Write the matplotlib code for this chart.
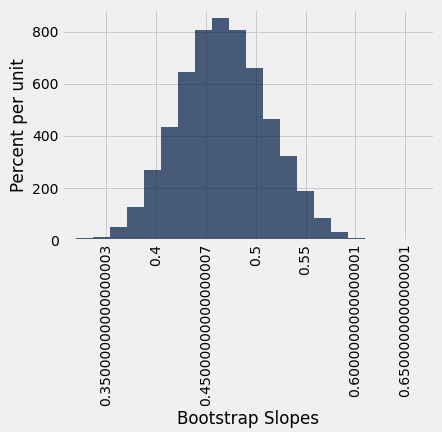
import matplotlib
matplotlib.use("Agg")
import matplotlib.pyplot as plt

plt.style.use("fivethirtyeight")

# histogram: 17 equal bins, heights in percent per unit
bin_left = 0.3196
bin_width = 0.01706
heights = [7, 12, 50, 126, 269, 435, 647, 805, 851, 805, 662, 467, 323, 188, 87, 31, 7]

tick_values = [0.35, 0.40, 0.45, 0.50, 0.55, 0.60, 0.65]
tick_labels = ["0.35000000000000003", "0.4", "0.45000000000000007", "0.5",
               "0.55", "0.6000000000000001", "0.6500000000000001"]

edges = [bin_left + i * bin_width for i in range(len(heights) + 1)]
centers = [bin_left + (i + 0.5) * bin_width for i in range(len(heights))]

fig = plt.figure(figsize=(442 / 72, 432 / 72), dpi=72)
fig.patch.set_facecolor("#f0f0f0")
ax = fig.add_axes([0.140, 0.444, 0.842, 0.535])

ax.hist(centers, bins=edges, weights=heights,
        color=(0.0, 0.102, 0.267), alpha=0.7)

ax.set_xlim(0.3055, 0.679)
ax.set_ylim(0, 887)
ax.set_yticks([0, 200, 400, 600, 800])
ax.set_xticks(tick_values)
ax.set_xticklabels(tick_labels, rotation=90)

ax.set_xlabel("Bootstrap Slopes")
ax.set_ylabel("Percent per unit")

fig.savefig("out.png", dpi=72, facecolor=fig.get_facecolor())
